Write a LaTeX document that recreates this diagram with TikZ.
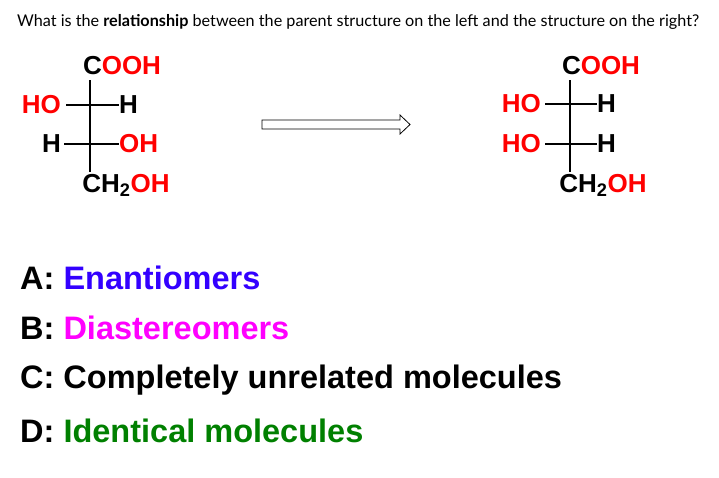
\documentclass[tikz,border=0pt]{standalone}
\usepackage{fontspec}
\setmainfont{Liberation Sans}
\newfontfamily\latofont{Lato}
\usetikzlibrary{arrows.meta}
\definecolor{ored}{RGB}{255,0,0}
\definecolor{ablue}{RGB}{51,0,255}
\definecolor{amag}{RGB}{255,0,255}
\definecolor{agreen}{RGB}{0,128,0}
\tikzset{x=1pt,y=-1pt,
 chem/.style={font=\fontsize{26}{28}\selectfont\bfseries,inner sep=0pt},
 bond/.style={line width=2.2pt},
 ans/.style={font=\fontsize{32.5}{36}\selectfont\bfseries,anchor=west,inner sep=0pt}}
\begin{document}
\begin{tikzpicture}
\useasboundingbox (0,0) rectangle (719,477);
\node[anchor=west,inner sep=0pt,font=\latofont\fontsize{16.2}{18}\selectfont] (q) at (17,22) {What is the \textbf{relationship} between the parent structure on the left and the structure on the right?};
% left
\coordinate (lt) at (90,80); \coordinate (lb) at (90,172);
\node[chem] (lc) at (122,66) {C\textcolor{ored}{OOH}};
\node[chem,anchor=east] (lho) at (61,105) {\textcolor{ored}{HO}};
\node[chem,anchor=west] (lh1) at (119,105) {H};
\node[chem,anchor=east] (lh2) at (61,144) {H};
\node[chem,anchor=west] (loh) at (119,144) {\textcolor{ored}{OH}};
\node[chem] (lch) at (126,185) {CH$_{\mathbf 2}$\textcolor{ored}{OH}};
\draw[bond] (lt) -- (lb);
\draw[bond] (lho.east) ++(5,0) -- (lh1.west);
\draw[bond] (lh2.east) ++(3,0) -- (loh.west);
% arrow
\draw[line width=0.8pt] (262,120) -- (400,120) -- (400,115) -- (410,124.5) -- (400,134) -- (400,129) -- (262,129) -- cycle;
% right
\coordinate (rt) at (570,80); \coordinate (rb) at (570,172);
\node[chem] (rc) at (601,66) {C\textcolor{ored}{OOH}};
\node[chem,anchor=east] (rho1) at (541,104) {\textcolor{ored}{HO}};
\node[chem,anchor=west] (rh1) at (597,104) {H};
\node[chem,anchor=east] (rho2) at (541,144) {\textcolor{ored}{HO}};
\node[chem,anchor=west] (rh2) at (597,144) {H};
\node[chem] (rch) at (603,185) {CH$_{\mathbf 2}$\textcolor{ored}{OH}};
\draw[bond] (rt) -- (rb);
\draw[bond] (rho1.east) ++(4,0) -- (rh1.west);
\draw[bond] (rho2.east) ++(4,0) -- (rh2.west);
% answers
\node[ans] (a) at (20,278) {A: \textcolor{ablue}{Enantiomers}};
\node[ans] (b) at (20,328) {B: \textcolor{amag}{Diastereomers}};
\node[ans] (c) at (20,380) {C: Completely unrelated molecules};
\node[ans] (d) at (20,431) {D: \textcolor{agreen}{Identical molecules}};
\end{tikzpicture}
\end{document}
